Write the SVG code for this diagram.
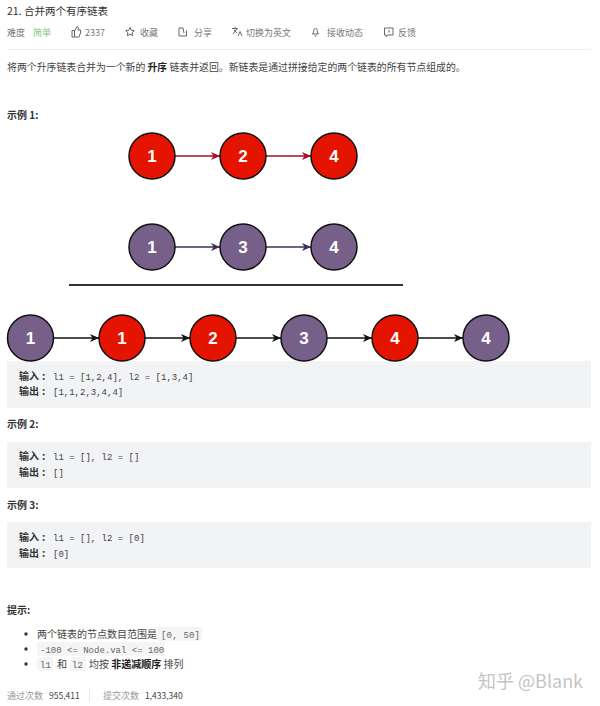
<svg xmlns="http://www.w3.org/2000/svg" width="600" height="706" viewBox="0 0 600 706">
<style>
.cn{font-family:"Noto Sans CJK SC","Liberation Sans",sans-serif}
.t{font-size:10px;fill:#333}
.g{font-size:9px;fill:#777}
.b{font-size:10px;fill:#333;font-weight:700}
.m{font-family:"Liberation Mono","Noto Sans CJK SC",monospace;font-size:9px;fill:#444}
.c{font-family:"Liberation Mono","Noto Sans CJK SC",monospace;font-size:9px;fill:#666}
.cb{fill:#f2f3f5}
.chip{fill:#f5f5f5}
.ic{fill:none;stroke:#666;stroke-width:1}
.n{stroke:#111;stroke-width:1.5}
.r{fill:#e51400}
.p{fill:#76608a}
.nt{font-family:"Liberation Sans",sans-serif;font-size:17px;font-weight:700;fill:#fff;text-anchor:middle}
.l{fill:none;stroke-width:1.3}
</style>
<defs>
<marker id="ar" markerUnits="userSpaceOnUse" markerWidth="10" markerHeight="10" refX="9" refY="5" orient="auto"><path d="M0 1L9 5L0 9L2.5 5Z" fill="#a50f25"/></marker>
<marker id="ap" markerUnits="userSpaceOnUse" markerWidth="10" markerHeight="10" refX="9" refY="5" orient="auto"><path d="M0 1L9 5L0 9L2.5 5Z" fill="#432d57"/></marker>
<marker id="ak" markerUnits="userSpaceOnUse" markerWidth="10" markerHeight="10" refX="9" refY="5" orient="auto"><path d="M0 1L9 5L0 9L2.5 5Z" fill="#111"/></marker>
</defs>
<rect width="600" height="706" fill="#fff"/>
<g id="header">
<text class="cn" x="7" y="15" font-size="10.500" fill="#333">21. 合并两个有序链表</text>
<text class="cn g" x="7" y="36">难度</text>
<text class="cn" x="33" y="36" font-size="9" fill="#7cc47c">简单</text>
<path class="ic" d="M72 30.500H74.500V37H72ZM74.500 31L77 26.500C78.500 26.500 78.500 28 78 30H80.500V33L79 37H74.500"/>
<text class="cn g" x="85" y="36">2337</text>
<path class="ic" d="M130 27.500L131.300 30.300L134.300 30.700L132.100 32.700L132.700 35.700L130 34.200L127.300 35.700L127.900 32.700L125.700 30.700L128.700 30.300Z"/>
<text class="cn g" x="140" y="36">收藏</text>
<path class="ic" d="M183 28H179V36H186.500V30.500M183 28L184 33"/>
<text class="cn g" x="194" y="36">分享</text>
<path class="ic" d="M232 28.500H238M235 27V29M233 34L237 28.500M234 30L237 33"/>
<path class="ic" d="M238 36L240 31.500L242 36"/>
<text class="cn g" x="246" y="36" font-size="9.200">切换为英文</text>
<path class="ic" d="M315.500 28.500C313.800 28.500 313.700 30 313.700 32L312.500 34H318.500L317.300 32C317.300 30 317.200 28.500 315.500 28.500ZM314.500 36H316.500"/>
<text class="cn g" x="327" y="36">接收动态</text>
<path class="ic" d="M384.500 28H393V35H388L386 36.500V35H384.500ZM389 30V32.500"/>
<text class="cn g" x="398" y="36">反馈</text>
<rect x="7" y="49" width="584" height="1" fill="#eee"/>
<text class="cn" x="7" y="71" font-size="9.900" fill="#444">将两个升序链表合并为一个新的 <tspan font-weight="700" fill="#222">升序</tspan> 链表并返回。新链表是通过拼接给定的两个链表的所有节点组成的。</text>
<text class="cn b" x="7" y="119">示例 1:</text>
</g>
<g id="connectors">
<path class="l" stroke="#a50f25" marker-end="url(#ar)" d="M175 156H220"/>
<path class="l" stroke="#a50f25" marker-end="url(#ar)" d="M266 156H311"/>
<path class="l" stroke="#432d57" marker-end="url(#ap)" d="M175 247H220"/>
<path class="l" stroke="#432d57" marker-end="url(#ap)" d="M266 247H311"/>
<path class="l" stroke="#111" marker-end="url(#ak)" d="M54 338H99"/>
<path class="l" stroke="#111" marker-end="url(#ak)" d="M145 338H190"/>
<path class="l" stroke="#111" marker-end="url(#ak)" d="M236 338H281"/>
<path class="l" stroke="#111" marker-end="url(#ak)" d="M327 338H372"/>
<path class="l" stroke="#111" marker-end="url(#ak)" d="M418 338H463"/>
</g>
<rect id="divider" x="69" y="284" width="334" height="2" fill="#333"/>
<g id="code-blocks">
<rect class="cb" x="7" y="361" width="584" height="47"/>
<rect class="cb" x="7" y="442" width="584" height="46"/>
<rect class="cb" x="7" y="522" width="584" height="46"/>
</g>
<g id="a1"><circle class="n r" cx="152" cy="156" r="23"/><text class="nt" x="152" y="162">1</text></g>
<g id="a2"><circle class="n r" cx="243" cy="156" r="23"/><text class="nt" x="243" y="162">2</text></g>
<g id="a3"><circle class="n r" cx="334" cy="156" r="23"/><text class="nt" x="334" y="162">4</text></g>
<g id="b1"><circle class="n p" cx="152" cy="247" r="23"/><text class="nt" x="152" y="253">1</text></g>
<g id="b2"><circle class="n p" cx="243" cy="247" r="23"/><text class="nt" x="243" y="253">3</text></g>
<g id="b3"><circle class="n p" cx="334" cy="247" r="23"/><text class="nt" x="334" y="253">4</text></g>
<g id="m1"><circle class="n p" cx="30.500" cy="338" r="23"/><text class="nt" x="30.500" y="344">1</text></g>
<g id="m2"><circle class="n r" cx="122" cy="338" r="23"/><text class="nt" x="122" y="344">1</text></g>
<g id="m3"><circle class="n r" cx="213" cy="338" r="23"/><text class="nt" x="213" y="344">2</text></g>
<g id="m4"><circle class="n p" cx="304" cy="338" r="23"/><text class="nt" x="304" y="344">3</text></g>
<g id="m5"><circle class="n r" cx="395" cy="338" r="23"/><text class="nt" x="395" y="344">4</text></g>
<g id="m6"><circle class="n p" cx="486" cy="338" r="23"/><text class="nt" x="486" y="344">4</text></g>
<g id="examples">
<text class="cn b" x="19" y="380">输入<tspan dx="3">:</tspan></text><text class="m" x="53" y="380">l1 = [1,2,4], l2 = [1,3,4]</text>
<text class="cn b" x="19" y="395">输出<tspan dx="3">:</tspan></text><text class="m" x="53" y="395">[1,1,2,3,4,4]</text>
<text class="cn b" x="7" y="428">示例 2:</text>
<text class="cn b" x="19" y="460">输入<tspan dx="3">:</tspan></text><text class="m" x="53" y="460">l1 = [], l2 = []</text>
<text class="cn b" x="19" y="476">输出<tspan dx="3">:</tspan></text><text class="m" x="53" y="476">[]</text>
<text class="cn b" x="7" y="509">示例 3:</text>
<text class="cn b" x="19" y="541">输入<tspan dx="3">:</tspan></text><text class="m" x="53" y="541">l1 = [], l2 = [0]</text>
<text class="cn b" x="19" y="557">输出<tspan dx="3">:</tspan></text><text class="m" x="53" y="557">[0]</text>
</g>
<g id="hints">
<text class="cn b" x="7" y="614">提示:</text>
<circle cx="26" cy="634" r="1.700" fill="#333"/>
<circle cx="26" cy="649" r="1.700" fill="#333"/>
<circle cx="26" cy="664" r="1.700" fill="#333"/>
<rect class="chip" x="158" y="627" width="44" height="14"/>
<rect class="chip" x="37" y="642" width="128" height="14"/>
<rect class="chip" x="37" y="657" width="16" height="14"/>
<rect class="chip" x="70" y="657" width="16" height="14"/>
<text class="cn" x="37" y="638" font-size="10" fill="#444">两个链表的节点数目范围是</text>
<text class="c" x="161" y="638" letter-spacing="0.200">[0, 50]</text>
<text class="c" x="40" y="653">-100 &lt;= Node.val &lt;= 100</text>
<text class="c" x="40" y="668">l1</text>
<text class="cn" x="57" y="668" font-size="10" fill="#444">和</text>
<text class="c" x="72" y="668">l2</text>
<text class="cn" x="89" y="668" font-size="10" fill="#444">均按 <tspan font-weight="700" fill="#222">非递减顺序</tspan> 排列</text>
</g>
<g id="stats">
<text class="cn" x="7" y="699" font-size="9" fill="#999">通过次数</text>
<text class="cn" x="49" y="699" font-size="8.500" fill="#444">955,411</text>
<rect x="89" y="689" width="1" height="13" fill="#e8e8e8"/>
<text class="cn" x="103" y="699" font-size="9" fill="#999">提交次数</text>
<text class="cn" x="145" y="699" font-size="8.500" fill="#444">1,433,340</text>
</g>
<text id="watermark" class="cn" x="478" y="688" font-size="18" fill="#c4c4c4">知乎 @Blank</text>
</svg>
